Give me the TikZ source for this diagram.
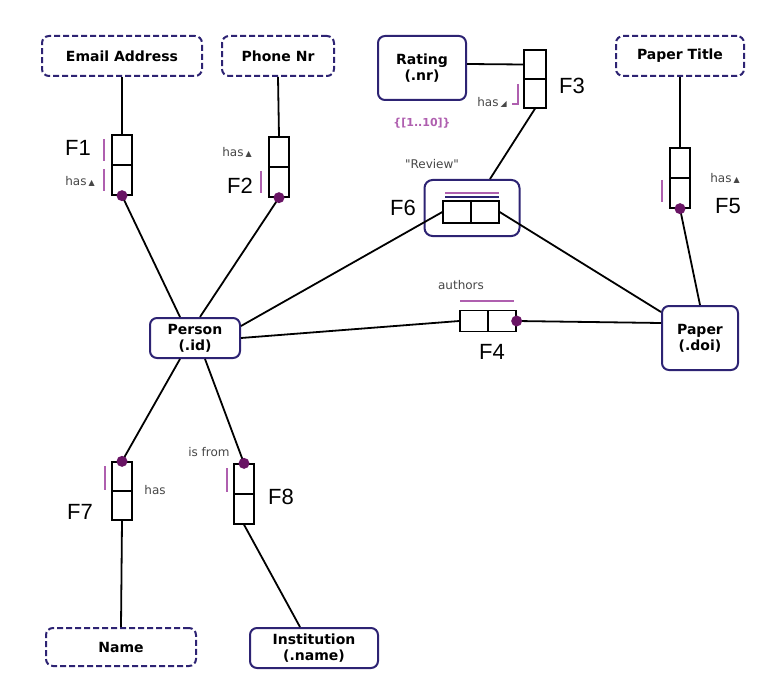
\documentclass[tikz,border=0pt]{standalone}
\usepackage{fontspec}
\setmainfont{DejaVu Sans}
\newfontfamily\flab{Liberation Sans}
\definecolor{navy}{RGB}{45,35,115}
\definecolor{dotc}{RGB}{105,20,100}
\definecolor{barc}{RGB}{175,95,175}
\definecolor{lblc}{RGB}{70,70,70}
\begin{document}
\begin{tikzpicture}[x=1pt,y=-1pt,
  ent/.style={draw=navy,line width=2pt,rounded corners=7pt,align=center,font=\fontsize{14}{16}\selectfont\bfseries,inner sep=2pt},
  val/.style={ent,dashed,dash pattern=on 6pt off 3pt},
  vcell/.style={draw,line width=1.3pt,minimum width=20pt,minimum height=30pt,inner sep=0pt},
  hcell/.style={draw,line width=1.3pt,minimum width=28pt,minimum height=22pt,inner sep=0pt},
  fl/.style={font=\flab\fontsize{22}{24}\selectfont},
  sl/.style={font=\fontsize{12}{14}\selectfont,text=lblc},
  con/.style={line width=1.8pt},
  ub/.style={draw=barc,line width=1.6pt},
  dot/.style={fill=dotc}]
\useasboundingbox (0,0) rectangle (784,695);
% entities
\node[val,minimum width=160pt,minimum height=40pt] (email) at (122,56) {Email Address};
\node[val,minimum width=112pt,minimum height=40pt] (phone) at (278,56) {Phone Nr};
\node[ent,minimum width=88pt,minimum height=64pt] (rating) at (422,68) {Rating\\(.nr)};
\node[font=\fontsize{11}{13}\selectfont\bfseries,text=barc] (range) at (422,123) {\{[1..10]\}};
\node[val,minimum width=128pt,minimum height=40pt] (ptitle) at (680,56) {Paper Title};
\node[ent,minimum width=90pt,minimum height=40pt] (person) at (195,338) {Person\\(.id)};
\node[ent,minimum width=76pt,minimum height=64pt] (paper) at (700,338) {Paper\\(.doi)};
\node[val,minimum width=150pt,minimum height=38pt] (name) at (121,647) {Name};
\node[ent,minimum width=128pt,minimum height=40pt] (inst) at (314,648) {Institution\\(.name)};
% F1
\node[vcell] (f1a) at (122,150) {};
\node[vcell] (f1b) at (122,180) {};
\draw[ub] (104,139) -- (104,161) (104,169) -- (104,191);
\node[fl] (F1) at (78,148) {F1};
\node[sl] (h1) at (80,181) {has\,{\fontsize{8}{9}\selectfont▲}};
% F2
\node[vcell] (f2a) at (279,152) {};
\node[vcell] (f2b) at (279,182) {};
\draw[ub] (261,171) -- (261,193);
\node[sl] (h2) at (237,152) {has\,{\fontsize{8}{9}\selectfont▲}};
\node[fl] (F2) at (240,186) {F2};
% F3
\node[vcell,minimum width=22pt,minimum height=29pt] (f3a) at (535,64.5) {};
\node[vcell,minimum width=22pt,minimum height=29pt] (f3b) at (535,93.5) {};
\draw[ub] (518,84) -- (518,104) -- (512,104);
\node[sl] (h3) at (492,102) {has\,{\fontsize{8}{9}\selectfont◢}};
\node[fl] (F3) at (572,86) {F3};
% F6 objectified
\node[draw=navy,line width=2pt,rounded corners=8pt,minimum width=95pt,minimum height=56pt] (obj) at (472,208) {};
\node[hcell] (f6a) at (457,212) {};
\node[hcell] (f6b) at (485,212) {};
\draw[ub] (445,193) -- (499,193);
\draw[navy,line width=1.2pt] (445,197) -- (499,197);
\node[sl] (rev) at (432,164) {\textquotedbl Review\textquotedbl};
\node[fl] (F6) at (403,208) {F6};
% F4
\node[hcell,minimum height=21pt] (f4a) at (474,321) {};
\node[hcell,minimum height=21pt] (f4b) at (502,321) {};
\draw[ub] (460,301) -- (514,301);
\node[sl] (auth) at (461,285) {authors};
\node[fl] (F4) at (492,352) {F4};
% F5
\node[vcell] (f5a) at (680,163) {};
\node[vcell] (f5b) at (680,193) {};
\draw[ub] (662,180) -- (662,202);
\node[sl] (h5) at (725,178) {has\,{\fontsize{8}{9}\selectfont▲}};
\node[fl] (F5) at (728,206) {F5};
% F7
\node[vcell,minimum height=29pt] (f7a) at (122,476.5) {};
\node[vcell,minimum height=29pt] (f7b) at (122,505.5) {};
\draw[ub] (105,466) -- (105,490);
\node[sl] (h7) at (155,490) {has};
\node[fl] (F7) at (80,512) {F7};
% F8
\node[vcell] (f8a) at (244,479) {};
\node[vcell] (f8b) at (244,509) {};
\draw[ub] (227,468) -- (227,492);
\node[sl] (h8) at (209,452) {is from};
\node[fl] (F8) at (281,497) {F8};
% connectors
\draw[con] (email.south) -- (f1a.north);
\draw[con] (f1b.south) -- ([xshift=-15pt]person.north);
\draw[con] (phone.south) -- (f2a.north);
\draw[con] (f2b.south) -- ([xshift=5pt]person.north);
\draw[con] (rating.east |- 0,64) -- (f3a.west);
\draw[con] (f3b.south) -- ([xshift=18pt]obj.north);
\draw[con] ([yshift=12pt]person.east) -- (f6a.west);
\draw[con] (f6b.east) -- ([yshift=26pt]paper.west);
\draw[con] (person.east) -- (f4a.west);
\draw[con] (f4b.east) -- ([yshift=15pt]paper.west);
\draw[con] (ptitle.south) -- (f5a.north);
\draw[con] (f5b.south) -- (paper.north);
\draw[con] ([xshift=-15pt]person.south) -- (f7a.north);
\draw[con] (f7b.south) -- (name.north);
\draw[con] ([xshift=10pt]person.south) -- (f8a.north);
\draw[con] (f8b.south) -- ([xshift=-14pt]inst.north);
% dots
\fill[dot] (f1b.south) circle (5.5pt);
\fill[dot] (f2b.south) circle (5.5pt);
\fill[dot] (f4b.east) circle (5.5pt);
\fill[dot] (f5b.south) circle (5.5pt);
\fill[dot] (f7a.north) circle (5.5pt);
\fill[dot] (f8a.north) circle (5.5pt);
\end{tikzpicture}
\end{document}
